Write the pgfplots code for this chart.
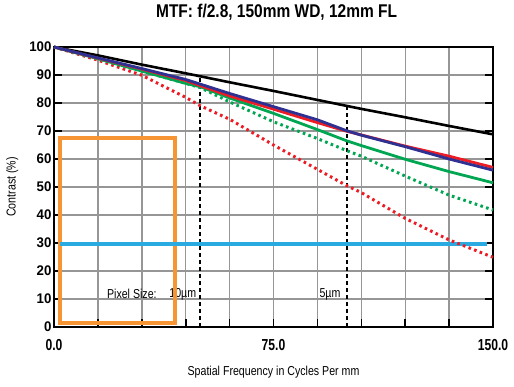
\documentclass[border=0pt]{standalone}
\usepackage{fontspec}
\setmainfont{Liberation Sans}
\newfontfamily\cond{Liberation Sans}[FakeStretch=0.82]
\newfontfamily\condt{Liberation Sans}[FakeStretch=0.84]
\newfontfamily\condnum{Liberation Sans}[FakeStretch=0.95]
\newfontfamily\condx{Liberation Sans}[FakeStretch=0.76]
\usepackage{pgfplots}
\pgfplotsset{compat=1.18}
\definecolor{mred}{RGB}{237,28,36}
\definecolor{mblue}{RGB}{46,49,146}
\definecolor{mgreen}{RGB}{0,166,81}
\definecolor{morange}{RGB}{247,148,51}
\definecolor{mcyan}{RGB}{41,171,226}
\definecolor{mgrid}{RGB}{150,150,150}
\begin{document}
\begin{tikzpicture}
\useasboundingbox (-54bp,-60bp) rectangle (460bp,327bp);
\begin{axis}[
  scale only axis, width=439bp, height=280bp,
  xmin=0, xmax=150, ymin=0, ymax=100,
  xtick={0,15,...,150}, xticklabels={0.0,,,,,75.0,,,,,150.0},
  ytick={0,10,...,100},
  grid=major, grid style={color=mgrid, line width=1.4bp},
  axis line style={line width=1.6bp},
  tick style={black, line width=1.6bp},
  major tick length=8bp,
  tick align=inside,
  xtick pos=bottom, ytick pos=both, yticklabel pos=left,
  /pgf/number format/assume math mode=true,
  yticklabel style={font=\condnum\bfseries\fontsize{14}{16}\selectfont, xshift=1bp},
  xticklabel style={font=\condx\bfseries\fontsize{16}{18}\selectfont, yshift=-9bp},
  xlabel={Spatial Frequency in Cycles Per mm},
  ylabel={Contrast (\%)},
  xlabel style={font=\cond\fontsize{13}{15}\selectfont, at={(axis description cs:0.5,-0.1607)}, anchor=center},
  ylabel style={font=\cond\fontsize{13}{15}\selectfont, at={(axis description cs:-0.095,0.5)}, anchor=center},
  title={MTF: f/2.8, 150mm WD, 12mm FL},
  title style={font=\condt\bfseries\fontsize{18.5}{20}\selectfont, at={(axis description cs:0.507,1.104)}, anchor=center},
  clip=false,
]
\node[font=\cond\fontsize{13}{15}\selectfont] at (axis cs:26.6,11.8) {Pixel Size:};
\node[font=\cond\fontsize{13}{15}\selectfont] at (axis cs:44,11.8) {10µm};
\node[font=\cond\fontsize{13}{15}\selectfont] at (axis cs:94.3,11.8) {5µm};
% dashed pixel size markers
\addplot[black, line width=2bp, dash pattern=on 4bp off 3bp] coordinates {(50,0) (50,89.6)};
\addplot[black, line width=2bp, dash pattern=on 4bp off 3bp] coordinates {(100,0) (100,78.6)};
% orange box
\addplot[morange, line width=4bp, line join=miter] coordinates {(2,1.5) (41.5,1.5) (41.5,67.5) (2,67.5) (2,1.5)} -- cycle;
% cyan threshold
\addplot[mcyan, line width=4bp] coordinates {(2,29.5) (148,29.5)};
% curves
\addplot[black, line width=2.6bp] coordinates {(0,100)(15,97.0)(30,93.7)(45,90.6)(60,87.4)(75,84.3)(90,81.1)(105,77.9)(120,74.9)(135,71.8)(150,68.8)};
\addplot[mred, line width=3bp, dash pattern=on 2.6bp off 3.4bp] coordinates {(0,100)(15,95.3)(30,89.9)(45,82.0)(50,79.0)(60,74.2)(75,65.0)(90,56.3)(100,50.5)(105,48.0)(120,38.8)(135,31.1)(150,24.9)};
\addplot[mgreen, line width=3bp, dash pattern=on 2.6bp off 3.4bp] coordinates {(0,100)(15,95.8)(30,91.4)(45,87.0)(50,85.5)(60,80.4)(75,73.3)(90,67.3)(100,63.0)(105,61.0)(120,53.9)(135,47.1)(150,41.8)};
\addplot[mgreen, line width=2.8bp] coordinates {(0,100)(15,95.8)(30,91.4)(45,87.0)(50,85.8)(60,81.8)(75,76.3)(90,70.5)(100,66.5)(105,64.8)(120,59.9)(135,55.5)(150,51.5)};
\addplot[mred, line width=2.8bp] coordinates {(0,100)(15,96.0)(30,92.1)(45,88.0)(60,82.5)(75,77.8)(90,73.0)(100,69.9)(105,68.6)(120,64.6)(135,61.0)(150,57.0)};
\addplot[mblue, line width=2.8bp] coordinates {(0,100)(15,96.1)(30,92.3)(45,88.4)(60,83.4)(75,78.7)(90,74.0)(100,70.1)(105,68.5)(120,64.4)(135,60.0)(150,56.0)};
\end{axis}
\end{tikzpicture}
\end{document}
